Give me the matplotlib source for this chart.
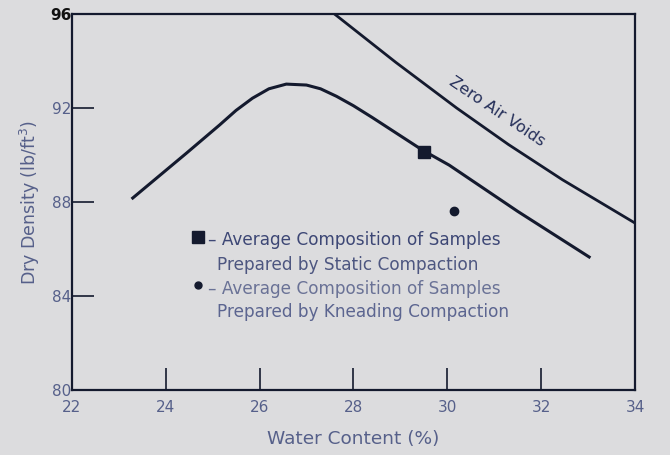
import matplotlib.pyplot as plt

# Compaction curve
water = [23.3, 24.45, 25.15, 25.5, 25.85, 26.2, 26.57, 27.0, 27.3, 27.64, 28.0, 28.4, 29.47, 30.04, 31.5, 33.02]
density = [88.17, 90.09, 91.28, 91.9, 92.42, 92.82, 93.02, 92.98, 92.82, 92.5, 92.1, 91.6, 90.21, 89.57, 87.6, 85.66]

# Zero air voids line
zav_water = [27.6, 28.9, 30.2, 31.3, 32.45, 34.0]
zav_density = [96.0, 93.95, 92.0, 90.45, 88.95, 87.1]

# Sample points
static_pt = (29.5, 90.15)
kneading_pt = (30.15, 87.6)

x_ticks = [22, 24, 26, 28, 30, 32, 34]
y_ticks = [80, 84, 88, 92, 96]

bg = '#dcdcde'
txt = '#56608a'
ink = '#141a2e'

fig = plt.figure(figsize=(6.7, 4.55), dpi=100, facecolor=bg)
ax = fig.add_axes([0.107, 0.143, 0.841, 0.826], facecolor=bg)

ax.plot(water, density, color=ink, lw=2.2, solid_joinstyle='round')
ax.plot(zav_water, zav_density, color=ink, lw=2.0, solid_joinstyle='round')
ax.plot(*static_pt, marker='s', ms=9, color=ink, ls='none')
ax.plot(*kneading_pt, marker='o', ms=6, color=ink, ls='none')

ax.set_xlim(22, 34)
ax.set_ylim(80, 96)
ax.set_xticks(x_ticks)
ax.set_yticks(y_ticks)
ax.tick_params(direction='in', length=16, width=1.2, color=ink,
               labelsize=11, labelcolor=txt)
ax.tick_params(axis='y', pad=0)
ax.tick_params(axis='x', pad=7)
for s in ax.spines.values():
    s.set_color(ink)
    s.set_linewidth(1.6)
ax.get_yticklabels()[-1].set_color('#111111')
ax.get_yticklabels()[-1].set_fontweight('bold')

ax.set_xlabel('Water Content (%)', fontsize=13.3, color=txt, labelpad=11)
ax.set_ylabel('Dry Density (lb/ft$^3$)', fontsize=12.5, color=txt, labelpad=6)

ax.text(31.05, 91.85, 'Zero Air Voids', rotation=-34, fontsize=11.5, color='#26305a',
        ha='center', va='center', rotation_mode='anchor')

# legend written as text inside the plot
ax.plot(24.7, 86.5, marker='s', ms=8, color=ink, ls='none')
ax.text(24.9, 86.38, '\u2013 Average Composition of Samples', fontsize=12.2, color='#3d4775', va='center')
ax.text(25.1, 85.32, 'Prepared by Static Compaction', fontsize=12.2, color='#4d5680', va='center')
ax.plot(24.7, 84.47, marker='o', ms=5, color=ink, ls='none')
ax.text(24.9, 84.3, '\u2013 Average Composition of Samples', fontsize=12.2, color='#6a7296', va='center')
ax.text(25.1, 83.32, 'Prepared by Kneading Compaction', fontsize=12.2, color='#5c6590', va='center')

plt.savefig('out.png', dpi=100, facecolor=bg)
